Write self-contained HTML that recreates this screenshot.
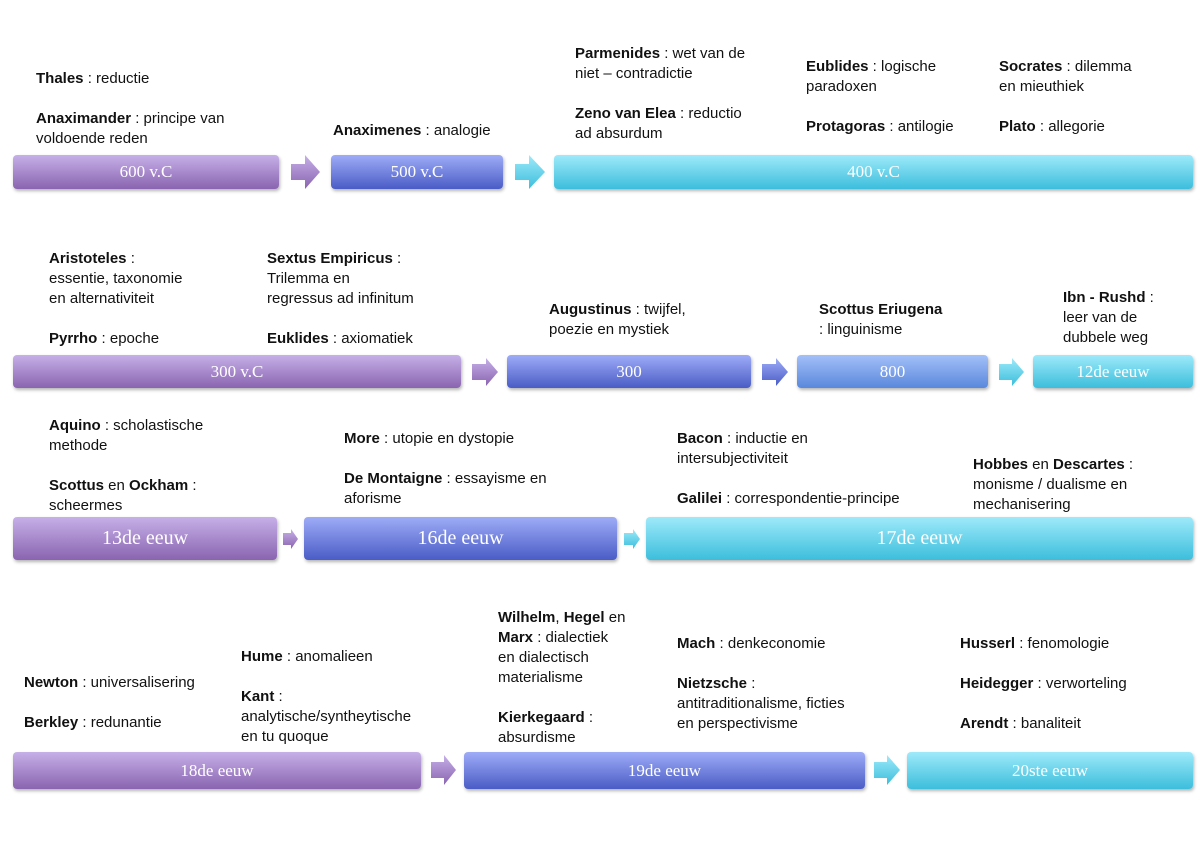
<!DOCTYPE html><html><head><meta charset="utf-8"><style>
body{margin:0;width:1200px;height:848px;background:#fff;position:relative;overflow:hidden;font-family:"Liberation Sans",sans-serif;}
.b{position:absolute;border-radius:4px;color:#fff;font-family:"Liberation Serif",serif;font-size:17px;display:flex;align-items:center;justify-content:center;box-shadow:1px 2px 3px rgba(0,0,0,.3);}
.p{background:linear-gradient(#c6b0e8,#8a64b0);}
.u{background:linear-gradient(#9eacf7,#4a5cc6);}
.c{background:linear-gradient(#9eeafa,#3cbedc);}
.a{position:absolute;}
.t{position:absolute;font-size:15px;line-height:20px;color:#111;white-space:nowrap;}
.t b{font-weight:bold;}
.big{font-size:20px;}
</style></head><body>
<svg class="a" style="left:0;top:0" width="1200" height="848">
<defs>
<linearGradient id="gp" x1="0" y1="0" x2="0" y2="1"><stop offset="0" stop-color="#c6b0e8"/><stop offset="1" stop-color="#8a64b0"/></linearGradient>
<linearGradient id="gu" x1="0" y1="0" x2="0" y2="1"><stop offset="0" stop-color="#9eacf7"/><stop offset="1" stop-color="#4a5cc6"/></linearGradient>
<linearGradient id="gc" x1="0" y1="0" x2="0" y2="1"><stop offset="0" stop-color="#9eeafa"/><stop offset="1" stop-color="#3cbedc"/></linearGradient>
</defs>
<polygon points="291,164 305,164 305,155 320,172 305,189 305,180 291,180" fill="url(#gp)"/>
<polygon points="515,164 529,164 529,155 545,172 529,189 529,180 515,180" fill="url(#gc)"/>
<polygon points="472,364 486,364 486,358 498,372 486,386 486,380 472,380" fill="url(#gp)"/>
<polygon points="762,364 776,364 776,358 788,372 776,386 776,380 762,380" fill="url(#gu)"/>
<polygon points="999,364 1012,364 1012,358 1024,372 1012,386 1012,380 999,380" fill="url(#gc)"/>
<polygon points="283,533 291,533 291,529 298,539 291,549 291,545 283,545" fill="url(#gp)"/>
<polygon points="624,533 633,533 633,529 640,539 633,549 633,545 624,545" fill="url(#gc)"/>
<polygon points="431,762 444,762 444,755 456,770 444,785 444,778 431,778" fill="url(#gp)"/>
<polygon points="874,762 887,762 887,755 900,770 887,785 887,778 874,778" fill="url(#gc)"/>
</svg>
<div class="b p" style="left:13px;top:155px;width:266px;height:34px">600 v.C</div>
<div class="b u" style="left:331px;top:155px;width:172px;height:34px">500 v.C</div>
<div class="b c" style="left:554px;top:155px;width:639px;height:34px">400 v.C</div>
<div class="b p" style="left:13px;top:355px;width:448px;height:33px">300 v.C</div>
<div class="b u" style="left:507px;top:355px;width:244px;height:33px">300</div>
<div class="b u" style="left:797px;top:355px;width:191px;height:33px;background:linear-gradient(#a3c0f8,#5a88dc)">800</div>
<div class="b c" style="left:1033px;top:355px;width:160px;height:33px">12de eeuw</div>
<div class="b p big" style="left:13px;top:517px;width:264px;height:43px">13de eeuw</div>
<div class="b u big" style="left:304px;top:517px;width:313px;height:43px">16de eeuw</div>
<div class="b c big" style="left:646px;top:517px;width:547px;height:43px">17de eeuw</div>
<div class="b p" style="left:13px;top:752px;width:408px;height:37px">18de eeuw</div>
<div class="b u" style="left:464px;top:752px;width:401px;height:37px">19de eeuw</div>
<div class="b c" style="left:907px;top:752px;width:286px;height:37px">20ste eeuw</div>

<div class="t" style="left:36px;top:69px"><b>Thales</b> : reductie<br><br><b>Anaximander</b> : principe van<br>voldoende reden</div>
<div class="t" style="left:333px;top:121px"><b>Anaximenes</b> : analogie</div>
<div class="t" style="left:575px;top:44px"><b>Parmenides</b> : wet van de<br>niet – contradictie<br><br><b>Zeno van Elea</b> : reductio<br>ad absurdum</div>
<div class="t" style="left:806px;top:57px"><b>Eublides</b> : logische<br>paradoxen<br><br><b>Protagoras</b> : antilogie</div>
<div class="t" style="left:999px;top:57px"><b>Socrates</b> : dilemma<br>en mieuthiek<br><br><b>Plato</b> : allegorie</div>

<div class="t" style="left:49px;top:249px"><b>Aristoteles</b> :<br>essentie, taxonomie<br>en alternativiteit<br><br><b>Pyrrho</b> : epoche</div>
<div class="t" style="left:267px;top:249px"><b>Sextus Empiricus</b> :<br>Trilemma en<br>regressus ad infinitum<br><br><b>Euklides</b> : axiomatiek</div>
<div class="t" style="left:549px;top:300px"><b>Augustinus</b> : twijfel,<br>poezie en mystiek</div>
<div class="t" style="left:819px;top:300px"><b>Scottus Eriugena</b><br>: linguinisme</div>
<div class="t" style="left:1063px;top:288px"><b>Ibn - Rushd</b> :<br>leer van de<br>dubbele weg</div>

<div class="t" style="left:49px;top:416px"><b>Aquino</b> : scholastische<br>methode<br><br><b>Scottus</b> en <b>Ockham</b> :<br>scheermes</div>
<div class="t" style="left:344px;top:429px"><b>More</b> : utopie en dystopie<br><br><b>De Montaigne</b> : essayisme en<br>aforisme</div>
<div class="t" style="left:677px;top:429px"><b>Bacon</b> : inductie en<br>intersubjectiviteit<br><br><b>Galilei</b> : correspondentie-principe</div>
<div class="t" style="left:973px;top:455px"><b>Hobbes</b> en <b>Descartes</b> :<br>monisme / dualisme en<br>mechanisering</div>

<div class="t" style="left:24px;top:673px"><b>Newton</b> : universalisering<br><br><b>Berkley</b> : redunantie</div>
<div class="t" style="left:241px;top:647px"><b>Hume</b> : anomalieen<br><br><b>Kant</b> :<br>analytische/syntheytische<br>en tu quoque</div>
<div class="t" style="left:498px;top:608px"><b>Wilhelm</b>, <b>Hegel</b> en<br><b>Marx</b> : dialectiek<br>en dialectisch<br>materialisme<br><br><b>Kierkegaard</b> :<br>absurdisme</div>
<div class="t" style="left:677px;top:634px"><b>Mach</b> : denkeconomie<br><br><b>Nietzsche</b> :<br>antitraditionalisme, ficties<br>en perspectivisme</div>
<div class="t" style="left:960px;top:634px"><b>Husserl</b> : fenomologie<br><br><b>Heidegger</b> : verworteling<br><br><b>Arendt</b> : banaliteit</div>
</body></html>
